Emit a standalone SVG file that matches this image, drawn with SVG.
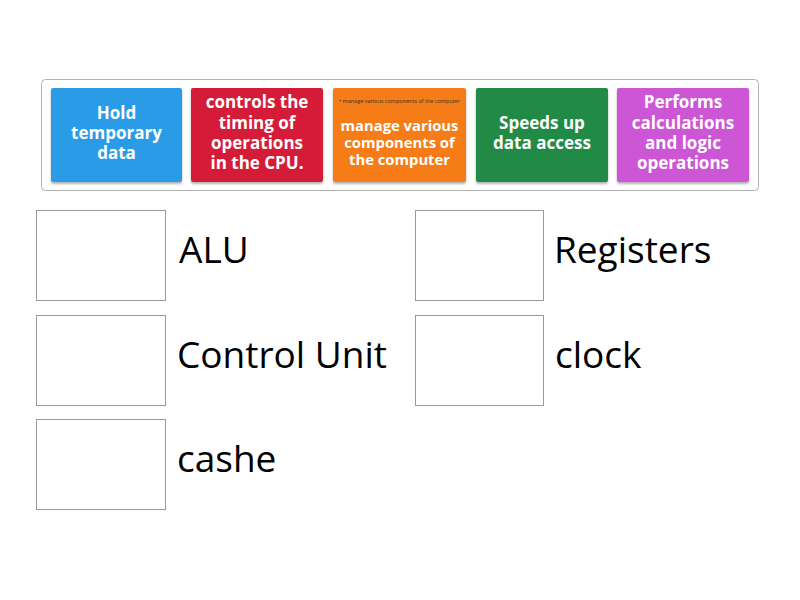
<svg xmlns="http://www.w3.org/2000/svg" width="800" height="600" viewBox="0 0 800 600">
<style>
.tile text{font-family:"Open Sans",sans-serif;font-weight:bold;fill:#fff;text-anchor:middle;font-size:17px}
.tile text.sm{font-size:14.8px}
.slot rect{fill:#fff;stroke:#9a9a9a;stroke-width:1}
.slot text{font-family:"Open Sans",sans-serif;font-size:37px;fill:#000}
</style>
<defs>
<filter id="sh" x="-10%" y="-10%" width="120%" height="130%"><feDropShadow dx="0" dy="2" stdDeviation="1.2" flood-color="#000" flood-opacity="0.3"/></filter>
</defs>
<rect width="800" height="600" fill="#fff"/>
<rect x="41.5" y="79.5" width="717" height="111" rx="4" fill="#fff" stroke="#b0b0b0"/>
<g id="tile-blue" class="tile"><rect x="51" y="88" width="131" height="94" rx="2" fill="#2a9be6" filter="url(#sh)"/>
<text x="116.5" y="119">Hold</text><text x="116.5" y="139">temporary</text><text x="116.5" y="159">data</text></g>
<g id="tile-red" class="tile"><rect x="191" y="88" width="132" height="94" rx="2" fill="#d41f38" filter="url(#sh)"/>
<text x="257" y="108">controls the</text><text x="257" y="129">timing of</text><text x="257" y="149">operations</text><text x="257" y="169">in the CPU.</text></g>
<g id="tile-orange" class="tile"><rect x="333" y="88" width="133" height="94" rx="2" fill="#f57b12" filter="url(#sh)"/>
<text x="399.5" y="102.5" style="font-size:5.5px;font-weight:normal;fill:#333">•  manage various components of the computer</text>
<text class="sm" x="399.5" y="131">manage various</text><text class="sm" x="399.5" y="148">components of</text><text class="sm" x="399.5" y="165">the computer</text></g>
<g id="tile-green" class="tile"><rect x="476" y="88" width="132" height="94" rx="2" fill="#248a46" filter="url(#sh)"/>
<text x="542" y="129">Speeds up</text><text x="542" y="149">data access</text></g>
<g id="tile-purple" class="tile"><rect x="617" y="88" width="132" height="94" rx="2" fill="#cd56d6" filter="url(#sh)"/>
<text x="683" y="108">Performs</text><text x="683" y="129">calculations</text><text x="683" y="149">and logic</text><text x="683" y="169">operations</text></g>
<g id="slot-alu" class="slot"><rect x="36.5" y="210.5" width="129" height="90"/><text x="179" y="263">ALU</text></g>
<g id="slot-registers" class="slot"><rect x="415.5" y="210.5" width="128" height="90"/><text x="554" y="263">Registers</text></g>
<g id="slot-control" class="slot"><rect x="36.5" y="315.5" width="129" height="90"/><text x="177" y="368">Control Unit</text></g>
<g id="slot-clock" class="slot"><rect x="415.5" y="315.5" width="128" height="90"/><text x="555" y="368">clock</text></g>
<g id="slot-cashe" class="slot"><rect x="36.5" y="419.5" width="129" height="90"/><text x="177" y="472">cashe</text></g>
<g id="connectors"/>
</svg>
